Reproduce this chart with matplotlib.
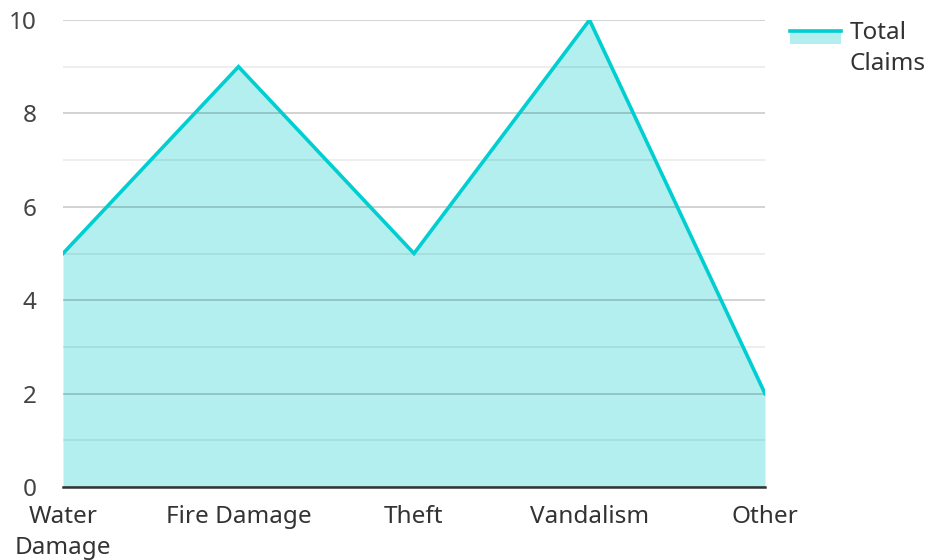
import matplotlib
matplotlib.use("Agg")
import matplotlib.pyplot as plt
from matplotlib.legend_handler import HandlerBase
from matplotlib.patches import Rectangle
from matplotlib.lines import Line2D
from matplotlib.ticker import MultipleLocator

categories = ["Water\nDamage", "Fire Damage", "Theft", "Vandalism", "Other"]
total_claims = [5, 9, 5, 10, 2]
series_label = "Total\nClaims"

LINE = "#00CED1"
FILL = "#B2EFEE"

plt.rcParams["font.family"] = ["Noto Sans", "DejaVu Sans"]

fig = plt.figure(figsize=(9.28, 5.6), dpi=100)
ax = fig.add_axes([63/928, 1 - 487/560, (765-63)/928, (487-20)/560])

x = list(range(len(categories)))
ax.fill_between(x, 0, total_claims, color=FILL, linewidth=0, zorder=1)
ax.plot(x, total_claims, color=LINE, linewidth=2.6, zorder=4, solid_joinstyle="miter")

ax.set_xlim(0, len(categories) - 1)
ax.set_ylim(0, 10)
ax.yaxis.set_major_locator(MultipleLocator(2))
ax.yaxis.set_minor_locator(MultipleLocator(1))
ax.grid(axis="y", which="major", color="black", alpha=0.2, linewidth=1.2, zorder=2)
ax.grid(axis="y", which="minor", color="black", alpha=0.08, linewidth=1.2, zorder=2)
ax.set_axisbelow(False)

for s in ["left", "right", "top"]:
    ax.spines[s].set_visible(False)
ax.spines["bottom"].set_color("#333333")
ax.spines["bottom"].set_linewidth(1.8)
ax.spines["bottom"].set_zorder(5)

ax.set_xticks(x)
ax.set_xticklabels(categories, fontsize=17.5, color="#333333", linespacing=1.38)
ax.tick_params(axis="x", length=0, pad=13)
ax.tick_params(axis="y", which="both", length=0, pad=19, labelsize=17.5, labelcolor="#444444")


class AreaHandler(HandlerBase):
    def create_artists(self, legend, orig_handle, xdescent, ydescent, width, height, fontsize, trans):
        top = height * 0.5 + 13
        h = 9
        rect = Rectangle((-xdescent, -ydescent + top - h), width, h,
                         facecolor=FILL, edgecolor="none", transform=trans)
        line = Line2D([-xdescent, -xdescent + width], [-ydescent + top, -ydescent + top],
                      color=LINE, linewidth=2.6, transform=trans)
        return [rect, line]


handle = Rectangle((0, 0), 1, 1)
leg = ax.legend([handle], [series_label], handler_map={Rectangle: AreaHandler()},
                loc="upper left", bbox_to_anchor=(1.036, 0.997), frameon=False,
                fontsize=17.5, handlelength=2.1, handleheight=0.6, handletextpad=0.35,
                labelcolor="#333333", borderpad=0, borderaxespad=0)
for t in leg.get_texts():
    t.set_linespacing(1.38)

fig.savefig("out.png", dpi=100)
